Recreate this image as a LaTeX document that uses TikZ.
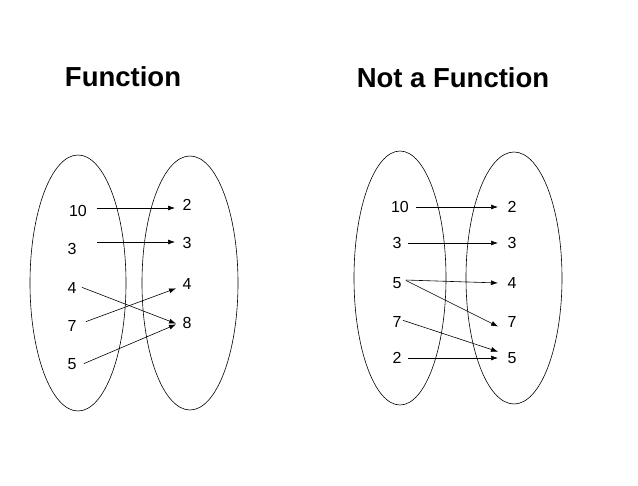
\documentclass[tikz,border=0pt]{standalone}
\usepackage{fontspec}
\setmainfont{Liberation Sans}
\usetikzlibrary{arrows.meta}
\begin{document}
\begin{tikzpicture}[x=1pt,y=-1pt,
  lbl/.style={font=\fontsize{16}{18}\selectfont, inner sep=2pt},
  ttl/.style={font=\bfseries\fontsize{27.5}{31}\selectfont},
  set/.style={draw, line width=0.6pt},
  arr/.style={-{Latex[length=7pt,width=5pt]}, line width=0.6pt, shorten <=1pt, shorten >=1pt}]
\useasboundingbox (0,0) rectangle (638,486);
\node[ttl] (t1) at (123,77) {Function};
\node[ttl] (t2) at (453,78) {Not a Function};
\draw[set] (78,283) ellipse [x radius=48, y radius=128];
\draw[set] (190,283) ellipse [x radius=48, y radius=127];
\draw[set] (400,278) ellipse [x radius=46, y radius=127];
\draw[set] (514,278) ellipse [x radius=48, y radius=126];
% left
\node[lbl] (a10) at (78,211) {10};
\node[lbl] (a3) at (72,249) {3};
\node[lbl] (a4) at (72,288) {4};
\node[lbl] (a7) at (72,326) {7};
\node[lbl] (a5) at (72,364) {5};
\node[lbl] (b2) at (187,205) {2};
\node[lbl] (b3) at (187,243) {3};
\node[lbl] (b4) at (187,284) {4};
\node[lbl] (b8) at (187,323) {8};
\coordinate (p10) at (96,208); \coordinate (q2) at (176,208);
\coordinate (p3) at (96,242);  \coordinate (q3) at (176,242);
\coordinate (p4) at (81,287);  \coordinate (q8) at (177,324);
\coordinate (p7) at (85,322);  \coordinate (q4) at (177,288);
\coordinate (p5) at (83,364);
\draw[arr] (p10) -- (q2);
\draw[arr] (p3) -- (q3);
\draw[arr] (p4) -- (q8);
\draw[arr] (p7) -- (q4);
\draw[arr] (p5) -- (q8);
% right
\node[lbl] (c10) at (400,207) {10};
\node[lbl] (c3) at (397,243) {3};
\node[lbl] (c5) at (397,283) {5};
\node[lbl] (c7) at (397,322) {7};
\node[lbl] (c2) at (397,358) {2};
\node[lbl] (d2) at (512,207) {2};
\node[lbl] (d3) at (512,243) {3};
\node[lbl] (d4) at (512,283) {4};
\node[lbl] (d7) at (512,322) {7};
\node[lbl] (d5) at (512,358) {5};
\coordinate (r10) at (415,207); \coordinate (s2) at (499,207);
\coordinate (r3) at (407,243);  \coordinate (s3) at (499,243);
\coordinate (r5) at (405,280);  \coordinate (s4) at (499,283);
\coordinate (s7) at (499,327);
\coordinate (r7) at (402,320);  \coordinate (s5a) at (499,352);
\coordinate (r2) at (407,358);  \coordinate (s5) at (499,358);
\draw[arr] (r10) -- (s2);
\draw[arr] (r3) -- (s3);
\draw[arr] (r5) -- (s4);
\draw[arr] (r5) -- (s7);
\draw[arr] (r7) -- (s5a);
\draw[arr] (r2) -- (s5);
\end{tikzpicture}
\end{document}
